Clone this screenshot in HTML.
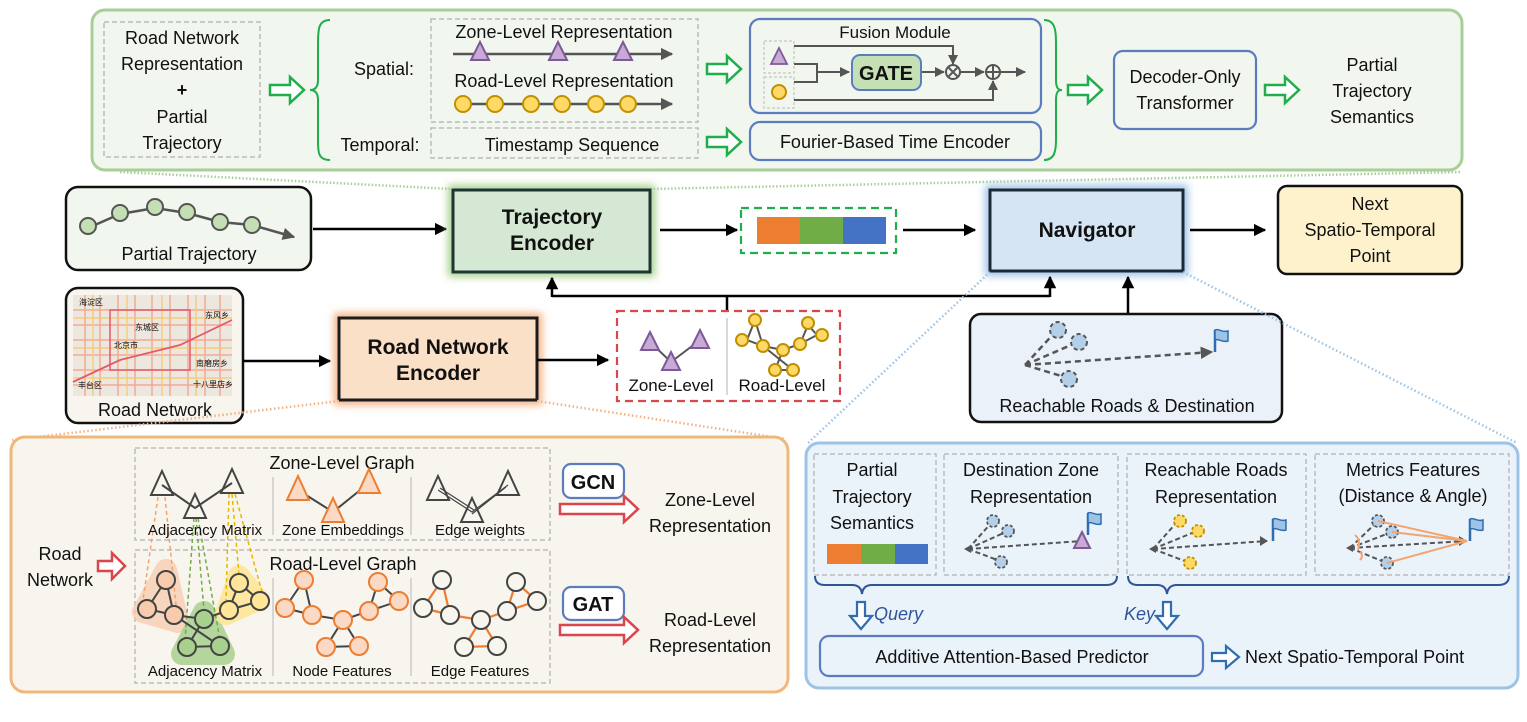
<!DOCTYPE html>
<html><head><meta charset="utf-8"><style>
html,body{margin:0;padding:0;background:#fff;}
svg{display:block;}
text{font-family:"Liberation Sans","Noto Sans CJK SC",sans-serif;fill:#111;}
</style></head><body>
<svg width="1527" height="722" viewBox="0 0 1527 722" xmlns="http://www.w3.org/2000/svg">
<defs>
<marker id="ah" viewBox="0 0 10 10" refX="9" refY="5" markerWidth="5" markerHeight="5" orient="auto"><path d="M0,0 L10,5 L0,10 z" fill="#000"/></marker>
<marker id="ag" viewBox="0 0 10 10" refX="9" refY="5" markerWidth="5" markerHeight="5" orient="auto"><path d="M0,0 L10,5 L0,10 z" fill="#555"/></marker>
<filter id="blur" x="-20%" y="-20%" width="140%" height="140%"><feGaussianBlur stdDeviation="4"/></filter>
<g id="hgr"><path d="M0,-5 H20 V-13 L34,0 L20,13 V5 H0 Z" fill="#fff" stroke="#1fae4b" stroke-width="2.5" stroke-linejoin="miter"/></g>
<g id="hred"><path d="M0,-5 H64 V-13 L78,0 L64,13 V5 H0 Z" fill="#fff" stroke="#d9474c" stroke-width="2.5"/></g>
<g id="hredS"><path d="M0,-5 H14 V-13 L27,0 L14,13 V5 H0 Z" fill="#fff" stroke="#d9474c" stroke-width="2.5"/></g>
<g id="hblue"><path d="M0,-4 H14 V-11 L27,0 L14,11 V4 H0 Z" fill="#fff" stroke="#2f6db0" stroke-width="2.2"/></g>
<g id="tri"><path d="M0,-10 L9,8 L-9,8 Z" fill="#c9a9d6" stroke="#7d5a97" stroke-width="2"/></g>
<g id="trig"><path d="M0,-14 L11,10 L-11,10 Z" fill="none" stroke="#444" stroke-width="2"/></g>
<g id="trio"><path d="M0,-14 L11,10 L-11,10 Z" fill="#fbd9c4" stroke="#ed7d31" stroke-width="2"/></g>
<g id="flag"><path d="M0,0 V-22" stroke="#2f6db0" stroke-width="2.5"/><path d="M0,-22 C4,-24 7,-19 13,-21 V-11 C7,-9 4,-14 0,-12 Z" fill="#9dc3e6" stroke="#2f6db0" stroke-width="1.5"/></g>
</defs>

<!-- ===== TOP GREEN PANEL ===== -->
<rect x="92" y="10" width="1370" height="160" rx="13" fill="#f1f6ee" stroke="#a8cf98" stroke-width="3"/>
<rect x="104" y="22" width="156" height="135" fill="none" stroke="#bbb" stroke-width="1.5" stroke-dasharray="5,3"/>
<g font-size="18" text-anchor="middle">
<text x="182" y="44">Road Network</text>
<text x="182" y="70">Representation</text>
<text x="182" y="96" font-weight="bold">+</text>
<text x="182" y="123">Partial</text>
<text x="182" y="149">Trajectory</text>
</g>
<use href="#hgr" x="270" y="90"/>
<path d="M330,20 C318,20 318,30 318,45 L318,80 C318,88 314,90 310,90 C314,90 318,92 318,100 L318,140 C318,152 318,160 330,160" fill="none" stroke="#1fae4b" stroke-width="2"/>
<text x="384" y="75" font-size="18" text-anchor="middle">Spatial:</text>
<text x="380" y="151" font-size="18" text-anchor="middle">Temporal:</text>
<rect x="431" y="19" width="267" height="103" fill="none" stroke="#bbb" stroke-width="1.5" stroke-dasharray="5,3"/>
<text x="564" y="38" font-size="18" text-anchor="middle">Zone-Level Representation</text>
<line x1="453" y1="54" x2="672" y2="54" stroke="#555" stroke-width="2.5" marker-end="url(#ag)"/>
<use href="#tri" x="480" y="52"/><use href="#tri" x="558" y="52"/><use href="#tri" x="623" y="52"/>
<text x="564" y="87" font-size="18" text-anchor="middle">Road-Level Representation</text>
<line x1="455" y1="104" x2="672" y2="104" stroke="#555" stroke-width="2.5" marker-end="url(#ag)"/>
<g fill="#ffd966" stroke="#bf9000" stroke-width="2">
<circle cx="463" cy="104" r="8"/><circle cx="495" cy="104" r="8"/><circle cx="531" cy="104" r="8"/><circle cx="562" cy="104" r="8"/><circle cx="596" cy="104" r="8"/><circle cx="628" cy="104" r="8"/></g>
<rect x="431" y="128" width="267" height="30" fill="none" stroke="#bbb" stroke-width="1.5" stroke-dasharray="5,3"/>
<text x="572" y="151" font-size="18" text-anchor="middle">Timestamp Sequence</text>
<use href="#hgr" x="707" y="69"/><use href="#hgr" x="707" y="142"/>
<!-- Fusion -->
<rect x="750" y="19" width="291" height="94" rx="10" fill="#f1f6ee" stroke="#5b7dc0" stroke-width="2.2"/>
<text x="895" y="38" font-size="17" text-anchor="middle">Fusion Module</text>
<rect x="764" y="41" width="30" height="32" fill="none" stroke="#bbb" stroke-dasharray="3,2"/>
<rect x="764" y="77" width="30" height="31" fill="none" stroke="#bbb" stroke-dasharray="3,2"/>
<path d="M779,48 L787,64 L771,64 Z" fill="#c9a9d6" stroke="#7d5a97" stroke-width="1.8"/>
<circle cx="779" cy="92" r="7" fill="#ffd966" stroke="#bf9000" stroke-width="2"/>
<g stroke="#555" stroke-width="2" fill="none">
<path d="M794,46 H953 V64" marker-end="url(#ag)"/>
<path d="M794,64 H817 V82 H794"/>
<path d="M817,72 H849" marker-end="url(#ag)"/>
<path d="M921,72 H944" marker-end="url(#ag)"/>
<path d="M960,72 H984" marker-end="url(#ag)"/>
<path d="M1001,72 H1025" marker-end="url(#ag)"/>
<path d="M794,100 H993 V81" marker-end="url(#ag)"/>
<circle cx="953" cy="72" r="7"/><path d="M948,67 L958,77 M958,67 L948,77"/>
<circle cx="993" cy="72" r="7"/><path d="M986,72 H1000 M993,65 V79"/>
</g>
<rect x="852" y="55" width="69" height="35" rx="8" fill="#c5e0b4" stroke="#5b7dc0" stroke-width="2"/>
<text x="886" y="80" font-size="20" font-weight="bold" text-anchor="middle">GATE</text>
<rect x="750" y="122" width="291" height="38" rx="10" fill="#f1f6ee" stroke="#5b7dc0" stroke-width="2.2"/>
<text x="895" y="148" font-size="18" text-anchor="middle">Fourier-Based Time Encoder</text>
<path d="M1044,20 C1054,20 1056,28 1056,42 L1056,80 C1056,88 1058,90 1062,90 C1058,90 1056,92 1056,100 L1056,140 C1056,152 1054,160 1044,160" fill="none" stroke="#1fae4b" stroke-width="2"/>
<use href="#hgr" x="1068" y="90"/>
<rect x="1114" y="51" width="142" height="78" rx="9" fill="#f1f6ee" stroke="#5b7dc0" stroke-width="2.2"/>
<text x="1185" y="83" font-size="18" text-anchor="middle">Decoder-Only</text>
<text x="1185" y="109" font-size="18" text-anchor="middle">Transformer</text>
<use href="#hgr" x="1265" y="90"/>
<g font-size="18" text-anchor="middle">
<text x="1372" y="71">Partial</text><text x="1372" y="97">Trajectory</text><text x="1372" y="123">Semantics</text></g>

<!-- dotted green lines -->
<path d="M120,172 L452,189 M1460,172 L650,189" stroke="#a8cf98" stroke-width="2.5" stroke-dasharray="1.5,2" fill="none"/>

<!-- ===== MIDDLE ROW ===== -->
<rect x="66" y="187" width="245" height="83" rx="12" fill="#f1f6ee" stroke="#111" stroke-width="2.5"/>
<path d="M88,228 L120,214 L155,208 L187,213 L220,222 L252,225 L294,237" stroke="#555" stroke-width="2.5" fill="none" marker-end="url(#ag)"/>
<g fill="#c5dfb4" stroke="#555" stroke-width="2">
<circle cx="88" cy="226" r="8"/><circle cx="120" cy="213" r="8"/><circle cx="155" cy="207" r="8"/><circle cx="187" cy="212" r="8"/><circle cx="220" cy="222" r="8"/><circle cx="252" cy="225" r="8"/></g>
<text x="189" y="260" font-size="18" text-anchor="middle">Partial Trajectory</text>
<line x1="313" y1="229" x2="446" y2="229" stroke="#000" stroke-width="2.5" marker-end="url(#ah)"/>

<rect x="453" y="190" width="197" height="82" fill="none" stroke="#a9d18e" stroke-width="10" filter="url(#blur)"/>
<rect x="453" y="190" width="197" height="82" fill="#d5e8d4" stroke="#1c3636" stroke-width="3"/>
<text x="552" y="224" font-size="21" font-weight="bold" text-anchor="middle">Trajectory</text>
<text x="552" y="250" font-size="21" font-weight="bold" text-anchor="middle">Encoder</text>
<line x1="660" y1="230" x2="737" y2="230" stroke="#000" stroke-width="2.5" marker-end="url(#ah)"/>
<rect x="741" y="208" width="155" height="45" fill="none" stroke="#1fae4b" stroke-width="2.2" stroke-dasharray="8,5"/>
<rect x="757" y="217" width="43" height="27" fill="#ed7d31"/><rect x="800" y="217" width="43" height="27" fill="#70ad47"/><rect x="843" y="217" width="43" height="27" fill="#4472c4"/>
<line x1="903" y1="230" x2="975" y2="230" stroke="#000" stroke-width="2.5" marker-end="url(#ah)"/>

<rect x="990" y="190" width="193" height="81" fill="none" stroke="#9dc3e6" stroke-width="10" filter="url(#blur)"/>
<rect x="990" y="190" width="193" height="81" fill="#d5e5f3" stroke="#1c2a36" stroke-width="3"/>
<text x="1087" y="237" font-size="21" font-weight="bold" text-anchor="middle">Navigator</text>
<line x1="1190" y1="230" x2="1265" y2="230" stroke="#000" stroke-width="2.5" marker-end="url(#ah)"/>
<rect x="1278" y="186" width="184" height="88" rx="9" fill="#fef2cc" stroke="#111" stroke-width="2.5"/>
<g font-size="18" text-anchor="middle"><text x="1370" y="210">Next</text><text x="1370" y="236">Spatio-Temporal</text><text x="1370" y="262">Point</text></g>

<!-- feedback lines -->
<path d="M727,311 V296 M552,296 H1050" stroke="#000" stroke-width="2.5" fill="none"/>
<line x1="552" y1="297" x2="552" y2="278" stroke="#000" stroke-width="2.5" marker-end="url(#ah)"/>
<line x1="1050" y1="297" x2="1050" y2="277" stroke="#000" stroke-width="2.5" marker-end="url(#ah)"/>
<line x1="1128" y1="314" x2="1128" y2="277" stroke="#000" stroke-width="2.5" marker-end="url(#ah)"/>

<!-- Road network map -->
<rect x="66" y="288" width="177" height="135" rx="12" fill="#f8f4ee" stroke="#111" stroke-width="2.5"/>
<rect x="73" y="295" width="159" height="101" fill="#ece7df"/>
<g stroke="#f4a38a" stroke-width="1.5" fill="none" opacity="0.9">
<path d="M73,310 H232 M73,325 H232 M73,340 H232 M73,355 H232 M73,370 H232 M73,385 H232"/>
<path d="M85,295 V396 M100,295 V396 M118,295 V396 M135,295 V396 M152,295 V396 M170,295 V396 M188,295 V396 M205,295 V396 M220,295 V396"/>
</g>
<g stroke="#f7c86b" stroke-width="1.2" fill="none">
<path d="M73,318 H232 M73,348 H232 M73,378 H232 M93,295 V396 M127,295 V396 M162,295 V396 M196,295 V396"/>
</g>
<path d="M73,382 L120,360 L180,345 L232,320" stroke="#e8566a" stroke-width="1.8" fill="none"/>
<rect x="110" y="310" width="80" height="60" fill="none" stroke="#e8566a" stroke-width="1.5"/>
<g font-size="8" fill="#444" style="fill:#444"><text x="79" y="305">海淀区</text><text x="135" y="330">东城区</text><text x="114" y="348">北京市</text><text x="78" y="388">丰台区</text><text x="205" y="318">东风乡</text><text x="196" y="366">南磨房乡</text><text x="193" y="387">十八里店乡</text></g>
<text x="155" y="416" font-size="18" text-anchor="middle">Road Network</text>
<line x1="243" y1="361" x2="330" y2="361" stroke="#000" stroke-width="2.5" marker-end="url(#ah)"/>

<rect x="339" y="318" width="198" height="82" fill="none" stroke="#f4b183" stroke-width="10" filter="url(#blur)"/>
<rect x="339" y="318" width="198" height="82" fill="#fbe0c8" stroke="#1c1c1c" stroke-width="3"/>
<text x="438" y="354" font-size="21" font-weight="bold" text-anchor="middle">Road Network</text>
<text x="438" y="380" font-size="21" font-weight="bold" text-anchor="middle">Encoder</text>
<line x1="537" y1="360" x2="608" y2="360" stroke="#000" stroke-width="2.5" marker-end="url(#ah)"/>

<rect x="617" y="311" width="223" height="90" fill="#fff" stroke="#d9474c" stroke-width="2.2" stroke-dasharray="8,5"/>
<line x1="727" y1="318" x2="727" y2="395" stroke="#ccc" stroke-width="1.5"/>
<path d="M650,342 L671,362 L700,340" stroke="#555" stroke-width="2" fill="none"/>
<use href="#tri" x="650" y="342"/><use href="#tri" x="671" y="362"/><use href="#tri" x="700" y="340"/>
<text x="671" y="391" font-size="17" text-anchor="middle">Zone-Level</text>
<g stroke="#555" stroke-width="2" fill="none"><path d="M755,320 L747,340 L763,346 Z M763,346 L783,350 L775,370 L793,370 Z M783,350 L800,344 L808,325 L817,335 L800,344"/></g>
<g fill="#ffd966" stroke="#bf9000" stroke-width="2">
<circle cx="755" cy="320" r="6"/><circle cx="742" cy="340" r="6"/><circle cx="763" cy="346" r="6"/><circle cx="783" cy="350" r="6"/><circle cx="775" cy="370" r="6"/><circle cx="793" cy="370" r="6"/><circle cx="800" cy="344" r="6"/><circle cx="808" cy="323" r="6"/><circle cx="822" cy="335" r="6"/></g>
<text x="782" y="391" font-size="17" text-anchor="middle">Road-Level</text>

<!-- Reachable -->
<rect x="970" y="314" width="312" height="108" rx="11" fill="#eaf1f9" stroke="#111" stroke-width="2.5"/>
<g stroke="#555" stroke-width="2.5" stroke-dasharray="6,4" fill="none">
<path d="M1025,365 L1057,330 M1025,365 L1078,342 M1025,365 L1068,378"/>
<path d="M1025,365 L1212,352" marker-end="url(#ag)"/>
</g>
<g fill="#b4cfea" stroke="#555" stroke-width="2" stroke-dasharray="4,3">
<circle cx="1058" cy="330" r="8"/><circle cx="1079" cy="342" r="8"/><circle cx="1069" cy="379" r="8"/></g>
<use href="#flag" x="1215" y="352"/>
<text x="1127" y="412" font-size="18" text-anchor="middle">Reachable Roads &amp; Destination</text>

<!-- dotted connectors -->
<path d="M339,401 L12,440 M537,401 L786,439" stroke="#f4b183" stroke-width="2.5" stroke-dasharray="1.5,2.5" fill="none"/>
<path d="M990,272 L808,443 M1183,272 L1517,443" stroke="#9dc3e6" stroke-width="2.5" stroke-dasharray="1.5,2.5" fill="none"/>

<!-- ===== BOTTOM LEFT ORANGE ===== -->
<rect x="11" y="437" width="777" height="255" rx="14" fill="#f8f5ef" stroke="#f0b878" stroke-width="3"/>
<text x="60" y="560" font-size="18" text-anchor="middle">Road</text>
<text x="60" y="586" font-size="18" text-anchor="middle">Network</text>
<use href="#hredS" x="98" y="566"/>
<rect x="135" y="448" width="415" height="92" fill="none" stroke="#bbb" stroke-width="1.5" stroke-dasharray="5,3"/>
<text x="342" y="469" font-size="18" text-anchor="middle">Zone-Level Graph</text>
<line x1="273" y1="477" x2="273" y2="535" stroke="#ccc" stroke-width="1.5"/>
<line x1="411" y1="477" x2="411" y2="535" stroke="#ccc" stroke-width="1.5"/>
<rect x="135" y="550" width="415" height="133" fill="none" stroke="#bbb" stroke-width="1.5" stroke-dasharray="5,3"/>
<text x="343" y="570" font-size="18" text-anchor="middle">Road-Level Graph</text>
<line x1="273" y1="578" x2="273" y2="676" stroke="#ccc" stroke-width="1.5"/>
<line x1="411" y1="578" x2="411" y2="676" stroke="#ccc" stroke-width="1.5"/>
<!-- blobs -->
<path d="M166,570 L143,612 L178,622 Z" fill="#f8cbad" opacity="0.75" stroke="#f8cbad" stroke-width="22" stroke-linejoin="round"/>
<path d="M204,612 L182,654 L224,654 Z" fill="#a9d18e" opacity="0.85" stroke="#a9d18e" stroke-width="22" stroke-linejoin="round"/>
<path d="M239,576 L226,614 L258,600 Z" fill="#ffe699" opacity="0.9" stroke="#ffe699" stroke-width="22" stroke-linejoin="round"/>
<g stroke-width="1.5" stroke-dasharray="4,3" fill="none">
<path d="M158,497 L143,600 M165,497 L176,605" stroke="#f4a46e"/>
<path d="M194,518 L185,640 M198,518 L220,640 M196,518 L204,610" stroke="#70ad47"/>
<path d="M229,494 L226,600 M235,494 L262,592 M232,494 L239,575" stroke="#e6b800"/>
</g>
<path d="M162,485 L195,508 L232,483" stroke="#444" stroke-width="2" fill="none"/>
<use href="#trig" x="162" y="485"/><use href="#trig" x="195" y="508"/><use href="#trig" x="232" y="483"/>
<path d="M298,490 L333,512 L369,483" stroke="#444" stroke-width="2" fill="none"/>
<use href="#trio" x="298" y="490"/><use href="#trio" x="333" y="512"/><use href="#trio" x="369" y="483"/>
<path d="M438,490 L472,512 L508,485 M440,488 L474,510 M472,514 L506,487" stroke="#444" stroke-width="1.2" fill="none"/>
<use href="#trig" x="438" y="490"/><use href="#trig" x="472" y="512"/><use href="#trig" x="508" y="485"/>
<g font-size="15" text-anchor="middle"><text x="205" y="535">Adjacency Matrix</text><text x="343" y="535">Zone Embeddings</text><text x="480" y="535">Edge weights</text>
<text x="205" y="676">Adjacency Matrix</text><text x="342" y="676">Node Features</text><text x="480" y="676">Edge Features</text></g>
<!-- road graph adjacency -->
<g stroke="#444" stroke-width="2" fill="none">
<path d="M166,580 L147,609 L174,615 Z M174,615 L204,619 L187,647 L220,646 Z M204,619 L229,610 L239,583 L260,601 L229,610"/>
</g>
<g stroke="#444" stroke-width="2">
<circle cx="166" cy="580" r="9" fill="#f8cbad"/><circle cx="147" cy="609" r="9" fill="#f8cbad"/><circle cx="174" cy="615" r="9" fill="#f8cbad"/>
<circle cx="204" cy="619" r="9" fill="#a9d18e"/><circle cx="187" cy="647" r="9" fill="#a9d18e"/><circle cx="220" cy="646" r="9" fill="#a9d18e"/>
<circle cx="239" cy="583" r="9" fill="#ffe699"/><circle cx="229" cy="610" r="9" fill="#ffe699"/><circle cx="260" cy="601" r="9" fill="#ffe699"/></g>
<!-- node features -->
<g stroke="#444" stroke-width="2" fill="none"><path d="M304,580 L285,608 M304,580 L312,615 M285,608 L312,615 L343,620 L369,611 L378,582 L399,601 L369,611 M343,620 L326,647 L359,646 Z"/></g>
<g stroke="#ed7d31" stroke-width="2" fill="#fbd9c4">
<circle cx="304" cy="580" r="9"/><circle cx="285" cy="608" r="9"/><circle cx="312" cy="615" r="9"/><circle cx="343" cy="620" r="9"/><circle cx="326" cy="647" r="9"/><circle cx="359" cy="646" r="9"/><circle cx="378" cy="582" r="9"/><circle cx="399" cy="601" r="9"/><circle cx="369" cy="611" r="9"/></g>
<!-- edge features -->
<g stroke="#ed7d31" stroke-width="2.2" fill="none"><path d="M442,580 L423,608 M442,580 L450,615 M423,608 L450,615 L481,620 L507,611 L516,582 L537,601 L507,611 M481,620 L464,647 L497,646 Z"/></g>
<g stroke="#444" stroke-width="2" fill="#f8f5ef">
<circle cx="442" cy="580" r="9"/><circle cx="423" cy="608" r="9"/><circle cx="450" cy="615" r="9"/><circle cx="481" cy="620" r="9"/><circle cx="464" cy="647" r="9"/><circle cx="497" cy="646" r="9"/><circle cx="516" cy="582" r="9"/><circle cx="537" cy="601" r="9"/><circle cx="507" cy="611" r="9"/></g>
<!-- GCN / GAT -->
<rect x="563" y="464" width="61" height="34" rx="8" fill="#fff" stroke="#5b7dc0" stroke-width="2.2"/>
<text x="593" y="489" font-size="20" font-weight="bold" text-anchor="middle">GCN</text>
<use href="#hred" x="560" y="509"/>
<text x="710" y="506" font-size="18" text-anchor="middle">Zone-Level</text>
<text x="710" y="532" font-size="18" text-anchor="middle">Representation</text>
<rect x="563" y="587" width="61" height="33" rx="8" fill="#fff" stroke="#5b7dc0" stroke-width="2.2"/>
<text x="593" y="611" font-size="20" font-weight="bold" text-anchor="middle">GAT</text>
<use href="#hred" x="560" y="630"/>
<text x="710" y="626" font-size="18" text-anchor="middle">Road-Level</text>
<text x="710" y="652" font-size="18" text-anchor="middle">Representation</text>

<!-- ===== BOTTOM RIGHT BLUE ===== -->
<rect x="806" y="443" width="712" height="245" rx="13" fill="#eaf2fa" stroke="#9dc3e6" stroke-width="3"/>
<g fill="none" stroke="#bbb" stroke-width="1.5" stroke-dasharray="5,3">
<rect x="814" y="454" width="122" height="121"/><rect x="944" y="454" width="174" height="121"/>
<rect x="1127" y="454" width="179" height="121"/><rect x="1315" y="454" width="194" height="121"/></g>
<g font-size="18" text-anchor="middle">
<text x="872" y="476">Partial</text><text x="872" y="503">Trajectory</text><text x="872" y="529">Semantics</text>
<text x="1031" y="476">Destination Zone</text><text x="1031" y="503">Representation</text>
<text x="1216" y="476">Reachable Roads</text><text x="1216" y="503">Representation</text>
<text x="1413" y="476">Metrics Features</text><text x="1413" y="502">(Distance &amp; Angle)</text></g>
<rect x="827" y="544" width="34" height="20" fill="#ed7d31"/><rect x="861" y="544" width="34" height="20" fill="#70ad47"/><rect x="895" y="544" width="33" height="20" fill="#4472c4"/>
<g stroke="#555" stroke-width="2" stroke-dasharray="5,3" fill="none">
<path d="M968,549 L993,521 M968,549 L1008,531 M968,549 L1000,561 M968,549 L1082,541"/>
<path d="M1153,549 L1178,521 M1153,549 L1197,531 M1153,549 L1190,563 M1153,549 L1267,541" />
<path d="M1350,548 L1378,521 M1350,548 L1392,532 M1350,548 L1387,563 M1350,548 L1466,541"/>
</g>
<path d="M964,549 l7,-4 v8 z M1149,549 l7,-4 v8 z M1346,548 l7,-4 v8 z" fill="#555"/>
<path d="M1268,541 l-8,-5 v10 z M1467,541 l-8,-5 v10 z" fill="#555"/>
<g fill="#b4cfea" stroke="#555" stroke-width="1.8" stroke-dasharray="3,2">
<circle cx="993" cy="521" r="6"/><circle cx="1008" cy="531" r="6"/><circle cx="1001" cy="562" r="6"/>
<circle cx="1378" cy="521" r="6"/><circle cx="1392" cy="532" r="6"/><circle cx="1387" cy="563" r="6"/></g>
<g fill="#ffd966" stroke="#bf9000" stroke-width="1.8" stroke-dasharray="3,2">
<circle cx="1180" cy="521" r="6"/><circle cx="1198" cy="531" r="6"/><circle cx="1190" cy="563" r="6"/></g>
<path d="M1082,532 L1090,548 L1074,548 Z" fill="#c9a9d6" stroke="#7d5a97" stroke-width="2"/>
<use href="#flag" x="1088" y="535"/>
<use href="#flag" x="1273" y="541"/>
<use href="#flag" x="1470" y="541"/>
<path d="M1378,521 L1467,541 L1392,532 M1467,541 L1387,563 M1355,535 q6,5 3,15 M1360,552 q4,4 0,8" stroke="#f4a46e" stroke-width="2" fill="none"/>
<path d="M815,576 Q815,585 825,585 L852,585 Q861,585 862,594 Q863,585 872,585 L1106,585 Q1117,585 1117,576" fill="none" stroke="#2f5597" stroke-width="2"/>
<path d="M1128,576 Q1128,585 1138,585 L1157,585 Q1166,585 1167,594 Q1168,585 1177,585 L1498,585 Q1509,585 1509,576" fill="none" stroke="#2f5597" stroke-width="2"/>
<g transform="translate(861,602) rotate(90)"><use href="#hblue"/></g>
<text x="874" y="620" font-size="18" font-style="italic" style="fill:#2f5597">Query</text>
<g transform="translate(1167,602) rotate(90)"><use href="#hblue"/></g>
<text x="1124" y="620" font-size="18" font-style="italic" style="fill:#2f5597">Key</text>
<rect x="820" y="636" width="383" height="40" rx="9" fill="#eaf2fa" stroke="#5b7dc0" stroke-width="2.2"/>
<text x="1012" y="663" font-size="18" text-anchor="middle">Additive Attention-Based Predictor</text>
<use href="#hblue" x="1212" y="657"/>
<text x="1245" y="663" font-size="18">Next Spatio-Temporal Point</text>
</svg>
</body></html>
